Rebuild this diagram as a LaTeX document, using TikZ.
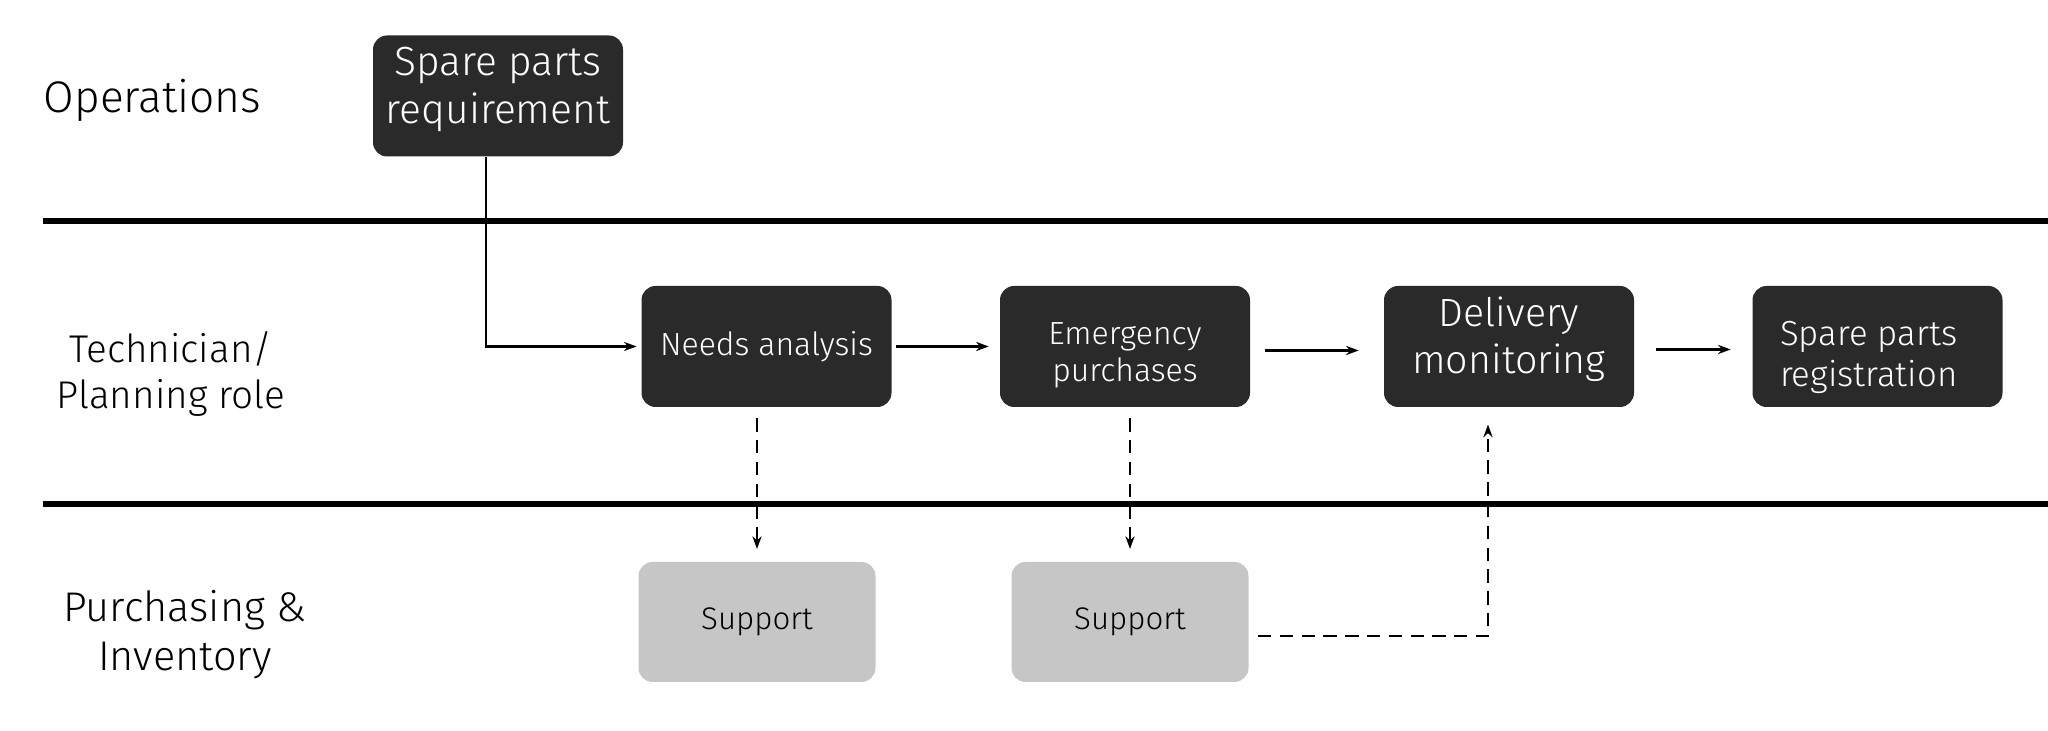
\documentclass[tikz,border=0pt]{standalone}
\usepackage{fontspec}
\setmainfont{Fira Sans Light}
\usetikzlibrary{arrows.meta,positioning}
\definecolor{boxdark}{HTML}{2A2A2A}
\definecolor{boxgray}{HTML}{C6C6C6}
% struts used to nudge text inside a box up or down
\newcommand{\padtop}[1]{\rule{0pt}{#1}}
\newcommand{\padbot}[1]{\rule[-#1]{0pt}{0pt}}

\begin{document}
\begin{tikzpicture}[
  act/.style={rectangle, rounded corners=4pt, fill=boxdark, text=white, minimum width=2.5cm, minimum height=1.21cm, align=center, inner sep=2pt},
  sup/.style={rectangle, rounded corners=4pt, fill=boxgray, text=black, minimum width=2.37cm, minimum height=1.2cm, align=center},
  lane/.style={line width=1.5pt},
  arr/.style={-{Stealth[length=3.6pt,width=2.6pt]}, line width=0.6pt},
  darr/.style={arr, dash pattern=on 3.8pt off 2.4pt},
  role/.style={align=center, text=black}
]
\useasboundingbox (0,0) rectangle (20.48,7.31);
% swimlane separators
\draw[lane] (0.43,5.10) -- (20.48,5.10);
\draw[lane] (0.43,2.27) -- (20.48,2.27);
% lane titles
\node[role, anchor=west, inner sep=0pt, font=\fontsize{12.6}{15}\selectfont] (lop) at (0.43,6.31) {Operations};
\node[role, font=\fontsize{11}{13}\selectfont] (ltech) at (1.71,3.57) {Technician/\\Planning role};
\node[role, font=\fontsize{11.8}{14}\selectfont] (lpur) at (1.85,0.96) {Purchasing \&\\Inventory};
% process steps
\node[act, font=\fontsize{11.6}{13.6}\selectfont] (req) at (4.98,6.35) {Spare parts\\requirement\padbot{6pt}};
\node[act, font=\fontsize{9.1}{11}\selectfont] (needs) at (7.665,3.845) {Needs analysis};
\node[act, font=\fontsize{9.1}{10.7}\selectfont] (emerg) at (11.25,3.845) {\padtop{11.2pt}Emergency\\purchases};
\node[act, font=\fontsize{11.2}{13.6}\selectfont] (deliv) at (15.09,3.845) {Delivery\\monitoring\padbot{6.4pt}};
\node[act, font=\fontsize{9.9}{11.6}\selectfont] (reg) at (18.775,3.845) {\padtop{13.2pt}Spare parts\hspace*{5pt}\\registration\hspace*{5pt}};
\node[sup, font=\fontsize{8.9}{11}\selectfont] (sup1) at (7.57,1.09) {Support};
\node[sup, font=\fontsize{8.9}{11}\selectfont] (sup2) at (11.30,1.09) {Support};
% flow
\draw[arr, shorten >=1.2pt] ([xshift=-0.12cm]req.south) |- (needs.west);
\draw[arr, shorten <=1pt, shorten >=3pt] (needs) -- (emerg);
\draw[arr, shorten <=4pt, shorten >=7pt] ([yshift=-0.04cm]emerg.east) -- ([yshift=-0.04cm]deliv.west);
\draw[arr, shorten <=6pt, shorten >=6pt] ([yshift=-0.03cm]deliv.east) -- ([yshift=-0.03cm]reg.west);
% support links
\draw[darr, shorten <=3pt, shorten >=3.5pt] (needs.south -| sup1.north) -- (sup1.north);
\draw[darr, shorten <=3pt, shorten >=3.5pt] (emerg.south -| sup2.north) -- (sup2.north);
\draw[darr, shorten <=2.5pt, shorten >=4.8pt] ([yshift=-0.14cm]sup2.east) -| ([xshift=-0.21cm]deliv.south);
\end{tikzpicture}
\end{document}
